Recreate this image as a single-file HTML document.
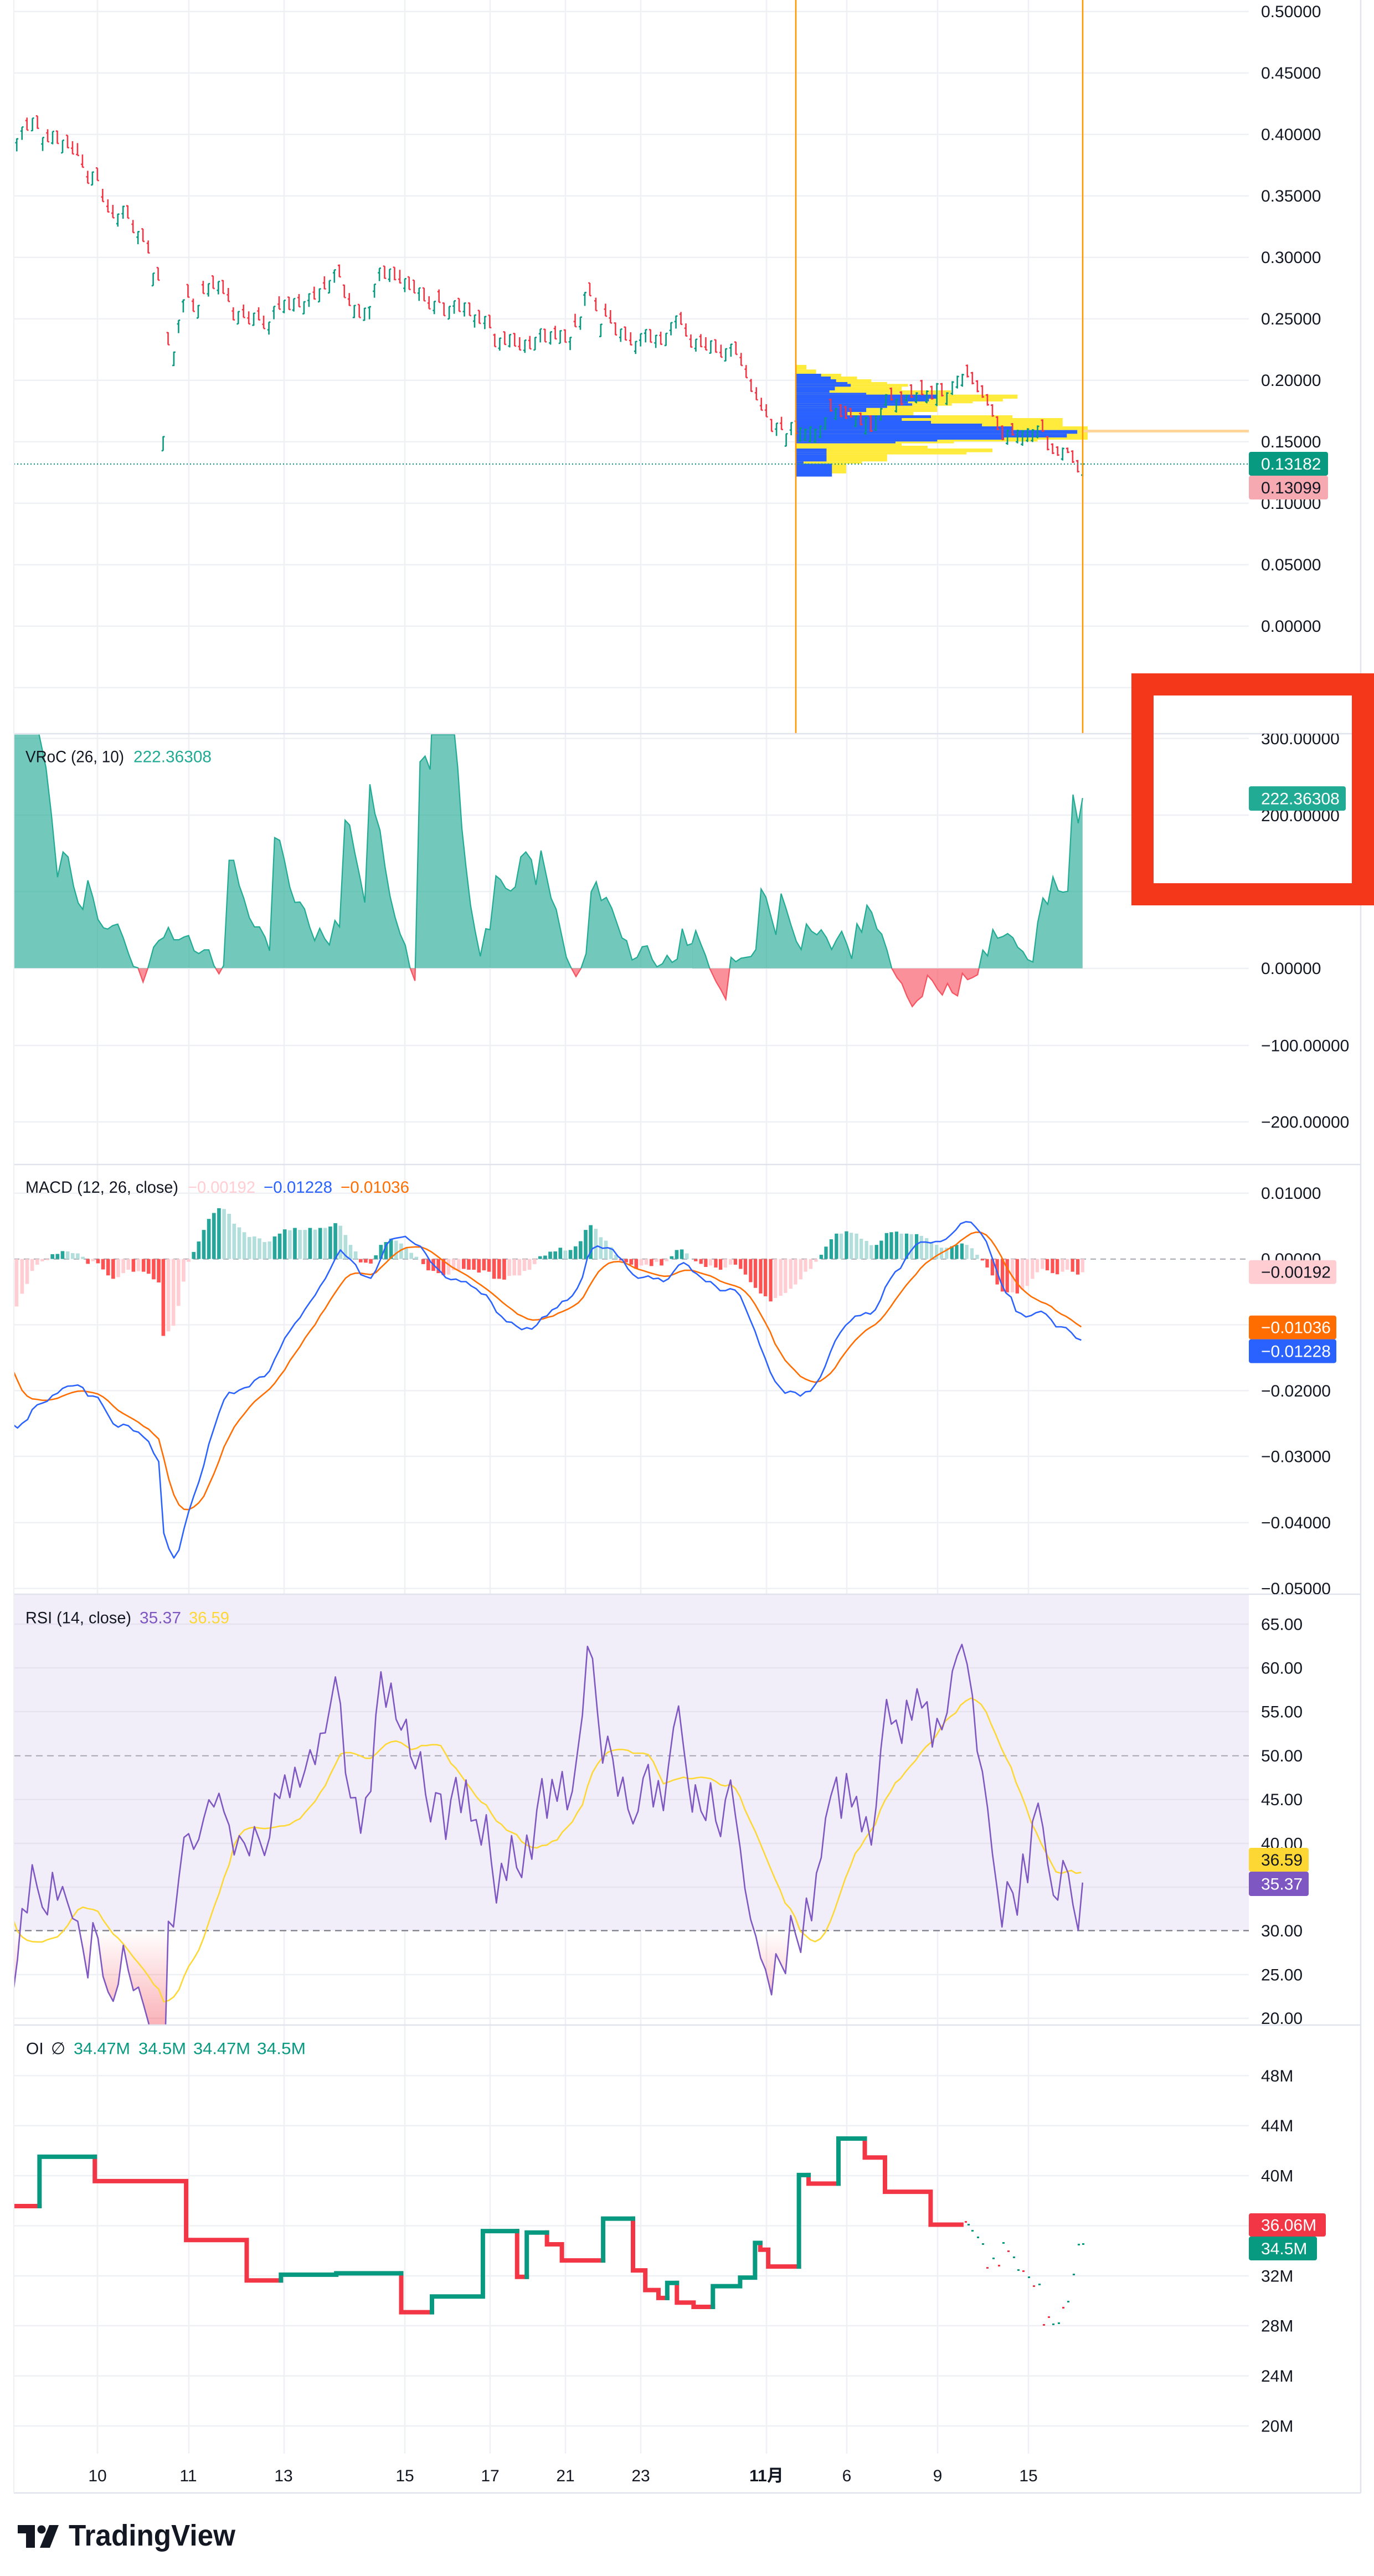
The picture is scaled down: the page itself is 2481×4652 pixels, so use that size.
<!DOCTYPE html>
<html><head><meta charset="utf-8"><style>
html,body{margin:0;padding:0;background:#fff;}
body{width:2481px;height:4652px;overflow:hidden;position:relative;}
svg{position:absolute;left:0;top:0;}
</style></head><body>
<svg xmlns="http://www.w3.org/2000/svg" width="2481" height="4652" viewBox="0 0 2481 4652" font-family="'Liberation Sans','DejaVu Sans',sans-serif" font-size="30">
<defs>
<clipPath id="cP"><rect x="25" y="0" width="2230" height="1325"/></clipPath>
<clipPath id="cVa"><rect x="25" y="1325" width="2230" height="423.7"/></clipPath>
<clipPath id="cVb"><rect x="25" y="1748.7" width="2230" height="354.3"/></clipPath>
<clipPath id="cM"><rect x="25" y="2103" width="2230" height="776"/></clipPath>
<clipPath id="cR"><rect x="25" y="2879" width="2230" height="777"/></clipPath>
<clipPath id="cO"><rect x="25" y="3657" width="2230" height="774"/></clipPath>
<clipPath id="aV"><rect x="2255" y="1325" width="202" height="778"/></clipPath>
<clipPath id="aM"><rect x="2255" y="2103" width="202" height="776"/></clipPath>
<clipPath id="aR"><rect x="2255" y="2879" width="202" height="777"/></clipPath>
<linearGradient id="osg" gradientUnits="userSpaceOnUse" x1="0" y1="3486" x2="0" y2="3656"><stop offset="0" stop-color="#f23645" stop-opacity="0"/><stop offset="1" stop-color="#f23645" stop-opacity="0.38"/></linearGradient>
<clipPath id="osc">
<polygon transform="translate(0,2860) scale(0.8307,0.5102)" points="30,1430 38,1330 48,1150 59,1165 70,995 81,1075 92,1145 103,1172 114,1022 125,1120 136,1072 147,1130 158,1185 169,1195 180,1290 191,1395 202,1200 213,1255 224,1390 235,1445 246,1478 257,1418 268,1280 279,1370 290,1440 301,1428 312,1490 323,1555 330,1620 356,1620 360,1560 366,1195 377,1215 389,1040 400,898 1505,800 1505,0 30,0"/>
<polygon transform="translate(1250,2860) scale(0.7866,0.5102)" points="0,810 110,935 121,1080 134,1188 146,1248 157,1325 168,1365 182,1455 192,1310 203,1345 214,1380 226,1175 237,1240 249,1305 262,1113 274,1193 285,1025 296,970 896,1058 896,0 0,0"/>
</clipPath>
</defs>

<!-- grid -->
<g stroke="#eef0f4" stroke-width="2.5" fill="none">
<path d="M176,0V4431M341,0V4431M513,0V4431M731,0V4431M885,0V4431M1021,0V4431M1157,0V4431M1384,0V4431M1529,0V4431M1693,0V4431M1857,0V4431"/>
<path d="M25,20.7H2255M25,131.7H2255M25,242.7H2255M25,353.7H2255M25,464.7H2255M25,575.7H2255M25,686.7H2255M25,797.7H2255M25,908.7H2255M25,1019.7H2255M25,1130.7H2255M25,1241.7H2255"/>
<path d="M25,1333.5H2255M25,1472H2255M25,1610H2255M25,1748.7H2255M25,1888H2255M25,2026H2255"/>
<path d="M25,2154.8H2255M25,2392.5H2255M25,2511.4H2255M25,2630H2255M25,2749.7H2255M25,2868.6H2255"/>
<path d="M25,3748.4H2255M25,3838.8H2255M25,3929H2255M25,4019.5H2255M25,4110H2255M25,4200H2255M25,4290.6H2255M25,4381H2255"/>
</g>

<!-- ===== PRICE PANE ===== -->
<g clip-path="url(#cP)">
<g transform="translate(1300,550) scale(0.7546,0.3333)">
<g fill="#ffeb3b">
<rect x="182" y="327" width="25" height="25"/><rect x="182" y="352" width="48" height="23"/><rect x="182" y="375" width="108" height="15"/><rect x="182" y="390" width="146" height="15"/><rect x="182" y="405" width="180" height="15"/><rect x="182" y="420" width="218" height="10"/><rect x="182" y="430" width="268" height="15"/><rect x="182" y="445" width="253" height="20"/><rect x="182" y="465" width="371" height="13"/><rect x="182" y="478" width="371" height="10"/><rect x="182" y="488" width="530" height="22"/><rect x="182" y="510" width="495" height="15"/><rect x="182" y="525" width="423" height="10"/><rect x="182" y="535" width="373" height="13"/><rect x="182" y="548" width="338" height="12"/><rect x="182" y="560" width="338" height="22"/><rect x="182" y="582" width="281" height="18"/><rect x="182" y="600" width="518" height="15"/><rect x="182" y="615" width="638" height="15"/><rect x="182" y="630" width="638" height="15"/><rect x="182" y="645" width="638" height="15"/><rect x="182" y="660" width="698" height="20"/><rect x="182" y="680" width="698" height="20"/><rect x="182" y="700" width="698" height="20"/><rect x="182" y="720" width="698" height="12"/><rect x="182" y="732" width="578" height="10"/><rect x="182" y="742" width="378" height="10"/><rect x="182" y="752" width="253" height="13"/><rect x="182" y="765" width="315" height="15"/><rect x="182" y="780" width="470" height="20"/><rect x="182" y="800" width="408" height="12"/><rect x="182" y="812" width="218" height="38"/><rect x="182" y="850" width="158" height="12"/><rect x="182" y="862" width="120" height="53"/>
</g>
<g fill="#2962ff">
<rect x="182" y="375" width="60" height="15"/><rect x="182" y="390" width="83" height="15"/><rect x="182" y="405" width="96" height="15"/><rect x="182" y="420" width="123" height="10"/><rect x="182" y="430" width="131" height="15"/><rect x="182" y="445" width="93" height="20"/><rect x="182" y="465" width="80" height="13"/><rect x="182" y="478" width="168" height="10"/><rect x="182" y="488" width="338" height="22"/><rect x="182" y="510" width="318" height="15"/><rect x="182" y="525" width="268" height="10"/><rect x="182" y="535" width="278" height="13"/><rect x="182" y="548" width="218" height="12"/><rect x="182" y="560" width="168" height="22"/><rect x="182" y="582" width="123" height="18"/><rect x="182" y="600" width="323" height="15"/><rect x="182" y="615" width="253" height="15"/><rect x="182" y="630" width="323" height="15"/><rect x="182" y="645" width="445" height="15"/><rect x="182" y="660" width="518" height="20"/><rect x="182" y="680" width="673" height="20"/><rect x="182" y="700" width="648" height="20"/><rect x="182" y="720" width="498" height="12"/><rect x="182" y="732" width="338" height="10"/><rect x="182" y="742" width="238" height="10"/><rect x="182" y="780" width="73" height="20"/><rect x="182" y="800" width="73" height="12"/><rect x="182" y="812" width="73" height="38"/><rect x="182" y="850" width="18" height="12"/><rect x="182" y="862" width="86" height="70"/>
</g>
<rect x="868" y="678" width="400" height="15" fill="#ffd59a"/>
</g>
<g fill="none" stroke-width="2.6">
<g transform="translate(0,180) scale(0.4728,0.3333)">
<path vector-effect="non-scaling-stroke" stroke="#089981" d="M64,210V280M58,233H64M64,212H70M84,148V218M78,170H84M84,148H90M124,100V170M118,168H124M124,100H130M163,205V278M157,240H163M163,205H169M201,172V242M195,235H201M201,172H207M239,220V288M233,288H239M239,220H245M353,390V463M347,462H353M353,392H359M450,618V688M444,672H450M450,620H456M470,575V645M464,618H470M470,578H476M527,713V783M521,745H527M527,715H533M585,940V1008M579,1008H585M585,940H591M623,1824V1902M617,1902H623M623,1826H629M664,1365V1443M658,1440H664M664,1368H670M682,1195V1265M676,1215H682M682,1195H688M700,1083V1153M694,1095H700M700,1085H706M757,1113V1183M751,1183H757M757,1115H763M796,997V1067M790,1052H796M796,997H802M834,985V1055M828,1033H834M834,985H840M910,1147V1215M904,1215H910M910,1148H916M969,1155V1225M963,1222H969M969,1157H975M1027,1205V1273M1021,1247H1027M1027,1205H1033M1046,1120V1190M1040,1145H1046M1046,1120H1052M1085,1087V1157M1079,1150H1085M1085,1087H1091M1122,1078V1148M1116,1140H1122M1122,1078H1128M1161,1093V1162M1155,1160H1161M1161,1095H1167M1180,1050V1123M1174,1088H1180M1180,1052H1186M1220,1023V1095M1214,1095H1220M1220,1025H1226M1258,980V1048M1252,1047H1258M1258,980H1264M1277,922V992M1271,938H1277M1277,922H1283M1353,1113V1183M1347,1180H1353M1353,1115H1359M1392,1128V1198M1386,1195H1392M1392,1130H1398M1411,1120V1190M1405,1127H1411M1411,1122H1417M1430,1000V1073M1424,1038H1430M1430,1000H1436M1449,913V983M1443,938H1449M1449,913H1455M1488,918V988M1482,973H1488M1488,918H1494M1546,970V1043M1540,1022H1546M1546,970H1552"/>
<path vector-effect="non-scaling-stroke" stroke="#f23645" d="M103,97V165M97,113H103M103,165H109M143,88V157M137,88H143M143,155H149M182,160V228M176,180H182M182,228H188M219,168V238M213,170H219M219,237H225M258,193V262M252,193H258M258,260H264M277,225V295M271,263H277M277,294H283M296,235V302M290,297H296M296,302H302M315,297V367M309,350H315M315,366H321M335,385V453M329,418H335M335,453H341M372,370V438M366,370H372M372,438H378M392,483V552M386,527H392M392,552H398M412,540V610M406,578H412M412,608H418M431,570V640M425,615H431M431,640H437M488,573V642M482,575H488M488,642H494M508,652V720M502,675H508M508,720H514M546,700V768M540,700H546M546,768H552M566,763V832M560,778H566M566,830H572M604,910V978M598,910H604M604,978H610M642,1260V1328M636,1262H642M642,1328H648M718,1002V1072M712,1002H718M718,1070H724M738,1078V1147M732,1092H738M738,1147H744M776,982V1050M770,1003H776M776,1050H782M814,955V1023M808,955H814M814,1023H820M852,978V1050M846,980H852M852,1050H858M872,1020V1093M866,1057H872M872,1093H878M891,1125V1195M885,1145H891M891,1193H897M930,1110V1180M924,1138H930M930,1180H936M950,1147V1215M944,1183H950M950,1215H956M988,1125V1195M982,1145H988M988,1193H994M1007,1170V1240M1001,1217H1007M1007,1240H1013M1066,1065V1135M1060,1108H1066M1066,1135H1072M1104,1068V1138M1098,1070H1104M1104,1137H1110M1142,1053V1123M1136,1072H1142M1142,1122H1148M1200,1013V1082M1194,1043H1200M1200,1080H1206M1239,957V1027M1233,993H1239M1239,1025H1245M1296,893V960M1290,898H1296M1296,960H1302M1315,1003V1072M1309,1005H1315M1315,1072H1321M1334,1048V1117M1328,1080H1334M1334,1115H1340M1372,1110V1180M1366,1110H1372M1372,1180H1378M1469,902V970M1463,902H1469M1469,968H1475M1507,908V978M1501,908H1507M1507,975H1513M1527,922V995M1521,973H1527M1527,993H1533"/>
</g>
<g transform="translate(700,420) scale(0.4728,0.3333)">
<path vector-effect="non-scaling-stroke" stroke="#089981" d="M120,300V370M114,328H120M120,300H126M178,372V442M172,422H178M178,373H184M235,400V468M229,468H235M235,400H241M254,370V440M248,398H254M254,370H260M293,380V455M287,428H293M293,382H299M332,445V515M326,480H332M332,447H338M371,453V523M365,492H371M371,455H377M428,570V640M422,627H428M428,572H434M466,552V622M460,615H466M466,553H472M524,582V652M518,638H524M524,583H530M563,567V637M557,636H563M563,568H569M583,522V595M577,548H583M583,522H589M622,537V607M616,598H622M622,538H628M659,530V600M653,600H659M659,532H665M697,567V637M691,592H697M697,568H703M736,457V527M730,510H736M736,458H742M753,323V397M747,338H753M753,325H759M814,495V565M808,563H814M814,497H820M890,522V592M884,568H890M890,523H896M947,588V658M941,643H947M947,590H953M966,547V617M960,583H966M966,548H972M985,525V595M979,545H985M985,526H991M1024,555V625M1018,598H1024M1024,557H1030M1063,545V613M1057,612H1063M1063,546H1069M1082,487V557M1076,530H1082M1082,488H1088M1101,450V520M1095,482H1101M1101,452H1107M1177,577V645M1171,628H1177M1177,578H1183M1234,585V655M1228,653H1234M1234,587H1240M1291,628V697M1285,695H1291M1291,630H1297M1311,603V673M1305,625H1311M1311,605H1317M1485,1032V1102M1479,1065H1485M1485,1033H1491M1522,1090V1158M1516,1157H1522M1522,1090H1528M1541,1028V1098M1535,1070H1541M1541,1030H1547"/>
<path vector-effect="non-scaling-stroke" stroke="#f23645" d="M82,240V308M76,240H82M82,308H88M101,258V327M95,258H101M101,327H107M139,300V370M133,300H139M139,370H145M158,345V413M152,382H158M158,413H164M196,308V378M190,320H196M196,378H202M215,380V450M209,382H215M215,450H221M273,357V427M267,357H273M273,427H279M313,380V450M307,382H313M313,450H319M350,422V492M344,422H350M350,492H356M390,448V517M384,448H390M390,515H396M409,548V618M403,555H409M409,618H415M447,537V607M441,538H447M447,606H453M485,545V615M479,547H485M485,615H491M504,567V637M498,617H504M504,636H510M543,560V630M537,585H543M543,630H549M601,522V592M595,524H601M601,592H607M640,505V577M634,520H640M640,576H646M678,525V595M672,528H678M678,594H684M716,440V510M710,482H716M716,510H722M772,273V342M766,273H772M772,342H778M795,353V423M789,370H795M795,423H801M832,385V453M826,415H832M832,453H838M851,420V490M845,463H851M851,490H857M870,487V555M864,490H870M870,554H876M908,510V583M902,512H908M908,582H914M928,540V610M922,585H928M928,608H934M1004,525V595M998,526H1004M1004,594H1010M1043,537V607M1037,557H1043M1043,605H1049M1120,430V498M1114,442H1120M1120,497H1126M1139,492V562M1133,518H1139M1139,560H1145M1158,552V622M1152,578H1158M1158,620H1164M1196,550V620M1190,563H1196M1196,618H1202M1215,567V637M1209,620H1215M1215,636H1221M1253,580V650M1247,581H1253M1253,648H1259M1273,607V675M1267,650H1273M1273,675H1279M1330,592V660M1324,593H1330M1330,660H1336M1350,652V720M1344,677H1350M1350,720H1356M1369,718V786M1363,740H1369M1369,786H1375M1388,793V862M1382,803H1388M1388,860H1394M1408,838V907M1402,868H1408M1408,906H1414M1427,895V963M1421,938H1427M1427,962H1433M1446,930V998M1440,962H1446M1446,998H1452M1466,1010V1078M1460,1013H1466M1466,1077H1472M1504,998V1068M1498,1033H1504M1504,1067H1510M1560,1020V1090M1554,1022H1560M1560,1088H1566"/>
</g>
<g transform="translate(1300,550) scale(0.7546,0.3333)">
<path vector-effect="non-scaling-stroke" stroke="#089981" d="M192,665V745M188,737H192M192,670H196M204,672V740M200,732H204M204,677H208M216,660V748M212,740H216M216,665H220M228,672V750M224,742H228M228,677H232M240,655V725M236,717H240M240,660H244M252,610V680M248,672H252M252,615H256M277,560V625M273,617H277M277,565H281M325,600V665M321,657H325M325,605H329M349,610V705M345,697H349M349,615H353M373,600V685M369,677H373M373,605H377M385,560V630M381,622H385M385,565H389M397,485V550M393,542H397M397,490H401M422,510V585M418,577H422M422,515H426M446,488V525M442,517H446M446,493H450M470,475V535M466,527H470M470,480H474M495,465V535M491,527H495M495,470H499M519,425V550M515,542H519M519,430H523M543,475V545M539,537H543M543,480H547M556,415V490M552,482H556M556,420H560M568,385V455M564,447H568M568,390H572M580,375V445M576,437H580M580,380H584M688,678V760M684,752H688M688,683H692M712,678V752M708,744H712M712,683H716M724,680V765M720,757H724M724,685H728M736,670V745M732,737H736M736,675H740M748,675V745M744,737H748M748,680H752M760,655V725M756,717H760M760,660H764M820,775V845M816,837H820M820,780H824M868,862V932M864,924H868M868,864H872"/>
<path vector-effect="non-scaling-stroke" stroke="#f23645" d="M265,510V580M261,515H265M265,575H269M289,540V610M285,545H289M289,605H293M301,550V620M297,555H301M301,615H305M313,560V612M309,565H313M313,607H317M337,585V655M333,590H337M337,650H341M361,600V690M357,605H361M361,685H365M410,450V520M406,455H410M410,515H414M434,470V545M430,475H434M434,540H438M458,432V505M454,437H458M458,500H462M483,408V492M479,413H483M483,487H487M507,440V515M503,445H507M507,510H511M531,425V498M527,430H531M531,493H535M592,325V395M588,330H592M592,390H596M604,365V432M600,370H604M604,427H608M616,410V475M612,415H616M616,470H620M628,437V505M624,442H628M628,500H632M640,485V548M636,490H640M640,543H644M652,540V608M648,545H652M652,603H656M664,605V680M660,610H664M664,675H668M676,655V735M672,660H676M676,730H680M700,642V710M696,647H700M700,705H704M772,622V690M768,627H772M772,685H776M784,712V790M780,717H784M784,785H788M796,752V810M792,757H796M796,805H800M808,768V820M804,773H808M808,815H812M832,775V805M828,780H832M832,800H836M844,790V858M840,795H844M844,853H848M856,842V910M852,847H856M856,905H860"/>
</g>
</g>
<path d="M25,838H2255" stroke="#089981" stroke-width="2.2" stroke-dasharray="2 4"/>
</g>
<path d="M1437,0V1325M1955,0V1325" stroke="#ff9800" stroke-width="2.6"/>

<!-- ===== VRoC ===== -->
<g clip-path="url(#cVa)">
<polygon transform="translate(0,1300) scale(0.8307,0.3323)" fill="#22ab94" fill-opacity="0.64" points="30,1349 30,80 85,80 100,260 112,520 125,855 137,718 148,745 160,905 170,995 180,1030 191,872 202,965 213,1085 225,1130 234,1137 245,1118 256,1110 268,1185 280,1275 290,1340 300,1348 311,1425 322,1345 334,1235 345,1200 356,1183 366,1128 378,1195 389,1195 400,1180 410,1172 422,1255 432,1270 444,1250 454,1250 465,1335 476,1380 486,1335 498,763 508,763 520,900 530,970 542,1075 553,1125 564,1125 576,1180 586,1255 597,640 608,655 618,760 630,910 641,992 652,990 662,1028 673,1125 684,1200 695,1133 706,1190 716,1223 728,1090 738,1125 750,545 760,572 771,720 782,850 793,993 804,350 815,510 826,600 837,800 848,960 859,1075 870,1165 881,1225 891,1345 902,1418 913,228 924,197 935,270 938,80 988,80 995,260 1004,590 1013,800 1023,1010 1033,1150 1044,1285 1056,1135 1065,1140 1078,848 1088,868 1099,915 1110,930 1120,908 1132,745 1143,718 1155,760 1165,897 1176,710 1187,840 1198,970 1209,1030 1220,1160 1231,1290 1241,1345 1252,1395 1263,1350 1274,1270 1285,935 1296,880 1307,982 1318,965 1330,1025 1341,1105 1352,1185 1362,1200 1374,1305 1385,1290 1396,1233 1407,1228 1418,1303 1428,1342 1440,1325 1450,1280 1461,1318 1472,1300 1483,1135 1494,1225 1505,1215 1505,1349"/>
<polygon transform="translate(1250,1300) scale(0.7866,0.523)" fill="#22ab94" fill-opacity="0.64" points="0,858 0,770 8,728 20,775 30,812 40,858 55,905 65,930 77,965 89,820 100,835 112,823 124,820 135,817 146,793 158,584 169,612 181,680 192,742 204,600 215,650 227,710 239,765 250,793 262,705 274,730 286,742 296,725 308,752 320,793 331,760 343,730 355,775 366,825 378,704 389,733 401,640 412,665 424,722 435,740 447,795 458,858 470,890 481,910 493,955 505,990 516,970 528,955 540,882 551,900 563,930 574,950 586,910 597,942 609,953 620,875 632,897 643,890 655,880 667,795 678,815 690,724 701,754 713,748 724,738 736,752 747,785 759,800 770,828 782,836 793,700 805,615 816,637 828,542 840,590 851,595 862,592 874,258 886,357 896,270 896,858"/>
<polyline transform="translate(0,1300) scale(0.8307,0.3323)" vector-effect="non-scaling-stroke" fill="none" stroke="#22ab94" stroke-width="2.2" points="85,80 100,260 112,520 125,855 137,718 148,745 160,905 170,995 180,1030 191,872 202,965 213,1085 225,1130 234,1137 245,1118 256,1110 268,1185 280,1275 290,1340 300,1348 311,1425 322,1345 334,1235 345,1200 356,1183 366,1128 378,1195 389,1195 400,1180 410,1172 422,1255 432,1270 444,1250 454,1250 465,1335 476,1380 486,1335 498,763 508,763 520,900 530,970 542,1075 553,1125 564,1125 576,1180 586,1255 597,640 608,655 618,760 630,910 641,992 652,990 662,1028 673,1125 684,1200 695,1133 706,1190 716,1223 728,1090 738,1125 750,545 760,572 771,720 782,850 793,993 804,350 815,510 826,600 837,800 848,960 859,1075 870,1165 881,1225 891,1345 902,1418 913,228 924,197 935,270 938,80 988,80 995,260 1004,590 1013,800 1023,1010 1033,1150 1044,1285 1056,1135 1065,1140 1078,848 1088,868 1099,915 1110,930 1120,908 1132,745 1143,718 1155,760 1165,897 1176,710 1187,840 1198,970 1209,1030 1220,1160 1231,1290 1241,1345 1252,1395 1263,1350 1274,1270 1285,935 1296,880 1307,982 1318,965 1330,1025 1341,1105 1352,1185 1362,1200 1374,1305 1385,1290 1396,1233 1407,1228 1418,1303 1428,1342 1440,1325 1450,1280 1461,1318 1472,1300 1483,1135 1494,1225 1505,1215"/>
<polyline transform="translate(1250,1300) scale(0.7866,0.523)" vector-effect="non-scaling-stroke" fill="none" stroke="#22ab94" stroke-width="2.2" points="0,770 8,728 20,775 30,812 40,858 55,905 65,930 77,965 89,820 100,835 112,823 124,820 135,817 146,793 158,584 169,612 181,680 192,742 204,600 215,650 227,710 239,765 250,793 262,705 274,730 286,742 296,725 308,752 320,793 331,760 343,730 355,775 366,825 378,704 389,733 401,640 412,665 424,722 435,740 447,795 458,858 470,890 481,910 493,955 505,990 516,970 528,955 540,882 551,900 563,930 574,950 586,910 597,942 609,953 620,875 632,897 643,890 655,880 667,795 678,815 690,724 701,754 713,748 724,738 736,752 747,785 759,800 770,828 782,836 793,700 805,615 816,637 828,542 840,590 851,595 862,592 874,258 886,357 896,270"/>
</g>
<g clip-path="url(#cVb)">
<polygon transform="translate(0,1300) scale(0.8307,0.3323)" fill="#f7525f" fill-opacity="0.64" points="30,1349 290,1340 300,1348 311,1425 322,1345 454,1250 465,1335 476,1380 486,1335 881,1225 891,1345 902,1418 913,228 1231,1290 1241,1345 1252,1395 1263,1350 1505,1215 1505,1349"/>
<polygon transform="translate(1250,1300) scale(0.7866,0.523)" fill="#f7525f" fill-opacity="0.64" points="0,858 30,812 40,858 55,905 65,930 77,965 89,820 100,835 447,795 458,858 470,890 481,910 493,955 505,990 516,970 528,955 540,882 551,900 563,930 574,950 586,910 597,942 609,953 620,875 632,897 643,890 655,880 667,795 896,858"/>
<polyline transform="translate(0,1300) scale(0.8307,0.3323)" vector-effect="non-scaling-stroke" fill="none" stroke="#f7525f" stroke-width="2.2" points="290,1340 300,1348 311,1425 322,1345"/>
<polyline transform="translate(0,1300) scale(0.8307,0.3323)" vector-effect="non-scaling-stroke" fill="none" stroke="#f7525f" stroke-width="2.2" points="454,1250 465,1335 476,1380 486,1335"/>
<polyline transform="translate(0,1300) scale(0.8307,0.3323)" vector-effect="non-scaling-stroke" fill="none" stroke="#f7525f" stroke-width="2.2" points="881,1225 891,1345 902,1418 913,228"/>
<polyline transform="translate(0,1300) scale(0.8307,0.3323)" vector-effect="non-scaling-stroke" fill="none" stroke="#f7525f" stroke-width="2.2" points="1231,1290 1241,1345 1252,1395 1263,1350 1274,1270"/>
<polyline transform="translate(1250,1300) scale(0.7866,0.523)" vector-effect="non-scaling-stroke" fill="none" stroke="#f7525f" stroke-width="2.2" points="30,812 40,858 55,905 65,930 77,965 89,820"/>
<polyline transform="translate(1250,1300) scale(0.7866,0.523)" vector-effect="non-scaling-stroke" fill="none" stroke="#f7525f" stroke-width="2.2" points="447,795 458,858 470,890 481,910 493,955 505,990 516,970 528,955 540,882 551,900 563,930 574,950 586,910 597,942 609,953 620,875 632,897 643,890 655,880 667,795"/>
</g>

<!-- ===== MACD ===== -->
<path d="M25,2273.7H2255" stroke="#a3a6af" stroke-width="2" stroke-dasharray="10 8"/>
<g clip-path="url(#cM)">
<g transform="translate(0,2090) scale(0.8307,0.5102)" fill="none" stroke-width="8">
<path stroke="#ffcdd2" d="M36,360V528M48,360V483M59,360V448M70,360V402M81,360V380M92,360V368M103,360V364M202,360V368M257,360V424M268,360V410M279,360V398M301,360V403M366,360V616M377,360V596M388,360V526M399,360V440M410,360V370M975,360V415M986,360V400M997,360V400M1107,360V420M1118,360V418M1129,360V418M1140,360V402M1151,360V398M1162,360V378M1394,360V383M1405,360V380M1427,360V370M1449,360V368"/>
<path stroke="#ff5252" d="M191,360V377M213,360V375M224,360V397M235,360V418M246,360V430M290,360V405M312,360V405M323,360V412M334,360V432M345,360V443M355,360V632M784,360V372M795,360V373M806,360V376M920,360V378M931,360V400M942,360V402M953,360V410M964,360V417M1008,360V395M1019,360V398M1030,360V398M1041,360V408M1052,360V400M1063,360V405M1074,360V430M1085,360V430M1096,360V433M1350,360V365M1361,360V372M1372,360V380M1383,360V395M1416,360V385M1438,360V383"/>
<path stroke="#26a69a" d="M114,360V343M125,360V342M136,360V332M421,360V335M432,360V298M443,360V257M454,360V218M465,360V197M476,360V180M597,360V280M608,360V270M619,360V255M641,360V250M674,360V250M696,360V250M718,360V245M729,360V233M817,360V347M828,360V310M839,360V300M850,360V288M1174,360V350M1185,360V348M1196,360V334M1207,360V333M1218,360V320M1240,360V328M1251,360V315M1262,360V297M1273,360V257M1284,360V240M1460,360V350M1471,360V328M1482,360V326"/>
<path stroke="#b2dfdb" d="M147,360V333M158,360V339M169,360V340M180,360V352M487,360V183M498,360V200M509,360V235M520,360V248M531,360V265M542,360V282M553,360V280M564,360V287M575,360V300M586,360V298M630,360V258M652,360V257M663,360V257M685,360V256M707,360V250M740,360V242M751,360V275M762,360V310M773,360V333M861,360V295M872,360V305M883,360V320M894,360V338M905,360V352M1229,360V330M1295,360V253M1306,360V283M1317,360V295M1328,360V318M1339,360V345M1493,360V340"/>
</g>
<g transform="translate(1250,2090) scale(0.7866,0.5102)" fill="none" stroke-width="8">
<path stroke="#ff5252" d="M8,360V368M20,360V377M31,360V388M54,360V390M65,360V398M99,360V380M111,360V395M122,360V415M134,360V442M145,360V462M157,360V482M168,360V492M180,360V510M666,360V365M677,360V390M689,360V418M700,360V450M712,360V475M723,360V478M746,360V482M815,360V400M827,360V410M838,360V414M873,360V405M885,360V415"/>
<path stroke="#ffcdd2" d="M42,360V383M76,360V390M88,360V380M191,360V498M203,360V490M214,360V480M226,360V465M237,360V450M249,360V432M260,360V405M272,360V395M284,360V370M735,360V478M758,360V468M769,360V455M781,360V430M792,360V407M804,360V395M850,360V405M861,360V398M896,360V407"/>
<path stroke="#26a69a" d="M296,360V345M307,360V316M319,360V290M331,360V270M354,360V262M423,360V310M434,360V295M446,360V268M457,360V265M469,360V263M492,360V270M515,360V272M596,360V315M607,360V310M619,360V305"/>
<path stroke="#b2dfdb" d="M342,360V270M365,360V267M377,360V270M388,360V288M400,360V296M411,360V311M480,360V270M503,360V272M526,360V278M538,360V286M549,360V300M561,360V310M572,360V320M584,360V320M630,360V310M642,360V322M654,360V345"/>
</g>
<g fill="none" stroke-width="2.6" stroke-linejoin="round">
<polyline transform="translate(0,2090) scale(0.8307,0.5102)" vector-effect="non-scaling-stroke" stroke="#ff6d00" points="30,760 38,790 48,825 59,845 70,855 81,857 92,860 103,860 114,857 125,853 136,845 147,838 158,832 169,828 180,827 191,830 202,833 213,838 224,848 235,862 246,880 257,896 268,907 279,917 290,927 301,938 312,952 323,962 334,980 345,997 356,1065 367,1140 378,1195 389,1230 400,1246 410,1247 421,1238 432,1223 443,1200 454,1160 465,1120 476,1075 487,1025 498,990 509,955 520,930 531,908 542,885 553,865 564,850 575,835 586,820 597,800 608,775 619,752 630,720 641,695 652,670 663,640 674,615 685,592 696,560 707,535 718,505 729,478 740,452 751,428 762,415 773,410 784,410 795,413 806,415 817,408 828,390 839,373 850,355 861,340 872,328 883,320 894,318 905,317 916,318 927,325 938,335 949,348 960,362 971,375 982,388 993,398 1004,408 1015,418 1026,430 1037,443 1048,455 1059,468 1070,482 1081,497 1092,513 1103,527 1114,540 1125,555 1136,563 1147,572 1158,576 1169,575 1180,572 1191,566 1202,562 1213,552 1224,545 1235,537 1246,527 1257,515 1268,495 1279,462 1290,432 1301,405 1312,388 1323,375 1334,370 1345,369 1356,372 1367,380 1378,390 1389,397 1400,402 1411,408 1422,413 1433,418 1444,421 1455,420 1466,413 1477,405 1488,400 1499,400 1505,400"/>
<polyline transform="translate(1250,2090) scale(0.7866,0.5102)" vector-effect="non-scaling-stroke" stroke="#ff6d00" points="0,400 10,405 20,410 31,415 42,420 53,428 64,438 76,445 87,450 98,455 110,462 121,475 133,495 144,520 155,550 167,583 179,618 190,660 202,690 213,718 225,738 236,755 248,775 260,785 271,792 282,796 294,792 305,780 317,765 328,745 340,715 352,690 363,668 374,648 386,630 398,613 409,602 420,592 432,575 443,555 455,530 466,505 478,480 490,455 501,435 513,415 524,393 536,375 547,363 559,350 570,340 582,330 593,320 605,310 616,295 628,282 640,270 651,265 663,266 675,275 686,293 697,318 709,350 720,385 732,415 743,440 755,463 766,478 778,493 789,502 801,512 812,518 824,528 835,543 847,555 858,563 870,575 881,588 893,600"/>
<polyline transform="translate(0,2090) scale(0.8307,0.5102)" vector-effect="non-scaling-stroke" stroke="#2962ff" points="30,948 38,958 48,942 60,928 70,893 81,876 92,870 103,863 114,843 125,835 136,818 147,810 158,809 169,806 180,815 191,845 202,845 213,850 224,880 235,912 246,943 257,955 268,945 279,950 290,968 301,973 312,990 323,1006 334,1047 345,1077 356,1330 367,1385 378,1418 389,1390 400,1315 410,1255 421,1200 432,1150 443,1090 454,1015 465,960 476,905 487,858 498,832 509,836 520,824 531,816 542,812 553,790 564,778 575,776 586,756 597,715 608,680 619,640 630,615 641,588 652,568 663,538 674,512 685,488 696,456 707,430 718,395 729,358 740,328 751,348 762,362 773,380 784,415 795,422 806,428 817,400 828,358 839,312 850,290 861,286 872,283 881,280 892,295 903,308 914,315 925,340 936,370 947,388 958,405 969,426 980,433 991,431 1002,440 1013,440 1024,455 1035,465 1046,483 1057,487 1068,513 1079,548 1090,563 1101,582 1112,584 1123,598 1134,610 1145,603 1156,608 1167,593 1178,567 1189,561 1200,540 1211,532 1222,510 1233,506 1244,490 1255,463 1266,425 1277,355 1288,323 1299,314 1310,322 1321,320 1332,326 1343,350 1354,365 1365,395 1376,415 1387,428 1398,425 1409,420 1420,430 1431,428 1442,440 1453,430 1464,405 1475,382 1486,373 1497,384 1505,403"/>
<polyline transform="translate(1250,2090) scale(0.7866,0.5102)" vector-effect="non-scaling-stroke" stroke="#2962ff" points="0,403 10,412 20,425 31,440 42,440 53,455 64,472 76,472 87,465 98,470 110,490 121,530 133,575 144,615 155,665 167,710 179,760 190,793 202,815 213,835 225,828 236,832 248,845 260,830 271,828 282,805 294,778 305,740 317,690 328,650 340,620 352,595 363,580 374,562 386,560 398,550 409,555 420,540 432,505 443,460 455,430 466,405 478,393 490,358 501,333 513,310 524,300 536,300 547,303 559,298 570,298 582,290 593,275 605,257 616,235 628,228 640,230 651,248 663,270 675,298 686,345 697,393 709,445 720,480 732,495 743,545 755,553 766,565 778,560 789,550 801,545 812,555 824,575 835,600 847,600 858,603 870,620 881,640 893,647"/>
</g>
</g>

<!-- ===== RSI ===== -->
<rect x="25" y="2879" width="2230" height="607.5" fill="#f2eef9"/>
<g stroke="#e6e2ef" stroke-width="2.5"><path d="M25,2933H2255M25,3012H2255M25,3091H2255M25,3249.8H2255M25,3329H2255M25,3408H2255"/></g>
<g stroke="#eef0f4" stroke-width="2.5"><path d="M25,3566H2255M25,3644.7H2255"/></g>
<path d="M25,3170.7H2255" stroke="#a5a8b1" stroke-width="2" stroke-dasharray="12 8"/>
<path d="M25,3486.5H2255" stroke="#787b86" stroke-width="2.2" stroke-dasharray="12 8"/>
<rect x="25" y="3486.5" width="2230" height="170" fill="url(#osg)" clip-path="url(#osc)"/>
<g clip-path="url(#cR)" fill="none" stroke-width="2.6" stroke-linejoin="round">
<polyline transform="translate(0,2860) scale(0.8307,0.5102)" vector-effect="non-scaling-stroke" stroke="#fdd835" points="30,1195 38,1230 48,1250 59,1262 70,1267 81,1268 92,1268 103,1260 114,1255 125,1250 136,1232 147,1210 158,1180 169,1155 180,1145 191,1150 202,1153 213,1160 224,1190 235,1215 246,1240 257,1255 268,1275 279,1298 290,1322 301,1343 312,1365 323,1390 334,1418 345,1435 356,1480 367,1475 378,1462 389,1437 400,1390 410,1355 421,1328 432,1297 443,1252 454,1198 465,1145 476,1098 487,1040 498,995 509,925 520,892 531,872 542,865 553,862 564,865 575,867 586,865 597,862 608,858 619,857 630,852 641,840 652,832 663,810 674,790 685,770 696,740 707,715 718,675 729,640 740,603 751,598 762,598 773,603 784,610 795,618 806,618 817,603 828,585 839,568 850,560 861,557 872,563 883,575 894,587 905,583 916,573 927,573 938,570 949,570 958,573 969,603 980,636 991,653 1002,678 1013,703 1024,727 1035,753 1046,773 1057,783 1068,813 1079,840 1090,852 1101,872 1112,880 1123,888 1134,913 1145,925 1156,933 1167,935 1178,927 1189,925 1200,912 1211,907 1222,880 1233,862 1244,843 1255,810 1266,783 1277,718 1288,668 1299,638 1310,614 1321,597 1332,590 1343,587 1354,587 1365,590 1376,600 1387,600 1398,600 1409,605 1420,630 1431,670 1442,708 1453,702 1464,695 1475,690 1486,685 1497,690 1505,690"/>
<polyline transform="translate(1250,2860) scale(0.7866,0.5102)" vector-effect="non-scaling-stroke" stroke="#fdd835" points="0,690 10,687 20,685 31,687 42,690 54,700 65,712 76,716 88,710 99,725 110,755 121,800 133,840 144,875 155,915 167,960 179,1005 190,1045 202,1085 213,1130 225,1150 236,1180 248,1230 260,1245 271,1260 282,1267 294,1257 305,1235 317,1195 328,1150 340,1095 351,1045 363,1000 374,955 386,932 398,900 409,875 420,853 432,800 443,765 455,737 466,705 478,690 490,665 501,645 513,625 524,600 536,578 547,563 559,540 570,512 582,485 593,470 605,457 616,430 628,415 640,405 651,413 663,427 675,455 686,497 697,535 709,580 720,616 732,650 743,703 755,745 766,790 778,845 789,878 801,920 812,952 824,988 835,1020 847,1025 858,1020 870,1015 881,1025 893,1022"/>
<polyline transform="translate(0,2860) scale(0.8307,0.5102)" vector-effect="non-scaling-stroke" stroke="#7e57c2" points="30,1430 38,1330 48,1150 59,1165 70,995 81,1075 92,1145 103,1172 114,1022 125,1120 136,1072 147,1130 158,1185 169,1195 180,1290 191,1395 202,1200 213,1255 224,1390 235,1445 246,1478 257,1418 268,1280 279,1370 290,1440 301,1428 312,1490 323,1555 330,1620 356,1620 360,1560 366,1195 377,1215 389,1040 400,898 410,885 421,940 432,905 443,830 454,765 465,790 476,742 487,808 498,855 509,960 520,892 531,918 542,963 553,860 564,908 575,962 586,898 597,742 608,760 619,677 630,757 641,650 652,720 663,660 674,588 685,640 696,530 707,528 718,430 729,330 740,425 751,670 762,758 773,757 784,883 795,758 806,735 817,465 828,312 839,437 850,352 861,480 872,518 883,480 892,610 903,655 914,595 925,745 936,843 947,740 958,745 969,905 980,765 991,686 1002,810 1013,695 1024,840 1035,835 1046,925 1057,818 1068,985 1079,1130 1090,990 1101,1050 1112,892 1123,1005 1134,1040 1145,890 1156,975 1167,800 1178,690 1189,830 1200,693 1211,770 1222,665 1233,800 1244,735 1255,600 1266,465 1277,222 1288,265 1299,460 1310,635 1321,540 1332,620 1343,752 1354,685 1365,798 1376,850 1387,805 1398,688 1409,640 1420,790 1431,697 1442,803 1453,645 1464,510 1475,433 1486,580 1497,720 1505,810"/>
<polyline transform="translate(1250,2860) scale(0.7866,0.5102)" vector-effect="non-scaling-stroke" stroke="#7e57c2" points="0,810 7,712 20,805 31,838 42,705 54,840 65,895 76,765 88,695 99,820 110,935 121,1080 134,1188 146,1248 157,1325 168,1365 182,1455 192,1310 203,1345 214,1380 226,1175 237,1240 249,1305 262,1113 274,1193 285,1025 296,970 306,830 318,752 331,685 342,830 354,672 366,790 377,753 389,878 399,825 411,925 422,790 433,585 446,410 457,497 468,483 481,565 492,413 504,483 516,372 527,440 539,418 551,578 562,477 573,517 585,457 597,310 608,255 619,215 631,285 643,395 654,593 666,665 678,795 689,955 700,1080 711,1215 723,1055 736,1095 746,1173 759,957 770,1058 781,842 794,777 805,862 816,992 829,1103 839,1120 851,980 863,1025 874,1137 886,1227 896,1058"/>
</g>

<!-- ===== OI ===== -->
<g clip-path="url(#cO)">
<g transform="translate(0,3640) scale(1.5853,0.6454)" fill="none" stroke-width="8" stroke-linecap="square">
<path vector-effect="non-scaling-stroke" stroke="#f23645" d="M16,533H45M108,395V463H212V628H281V741H320M457,721V830H492M589,603V731H600M623,607V640H640V685H687M721,568V713H735V768H750V790H760M771,748V803H790V815H812M866,636V655H875V702H910M921,446V470H955M985,344V397H1008V493H1060V585H1095"/>
<path vector-effect="non-scaling-stroke" stroke="#089981" d="M45,533V395H108M320,741V725H383V721H457M492,830V786H550V603H589M600,731V607H623M687,685V568H721M760,790V748H771M812,815V757H843V733H860V636H866M910,702V446H921M955,470V344H985"/>
</g>
<g fill="#f23645"><rect x="1742" y="4011" width="4" height="3"/><rect x="1781" y="4094" width="4" height="3"/><rect x="1802" y="4090" width="4" height="3"/><rect x="1819" y="4064" width="4" height="3"/><rect x="1846" y="4100" width="4" height="3"/><rect x="1865" y="4127" width="4" height="3"/><rect x="1883" y="4197" width="4" height="3"/><rect x="1892" y="4183" width="4" height="3"/><rect x="1918" y="4166" width="4" height="3"/></g>
<g fill="#089981"><rect x="1747" y="4016" width="4" height="3"/><rect x="1754" y="4027" width="4" height="3"/><rect x="1764" y="4039" width="4" height="3"/><rect x="1773" y="4051" width="4" height="3"/><rect x="1792" y="4077" width="4" height="3"/><rect x="1810" y="4049" width="4" height="3"/><rect x="1829" y="4075" width="4" height="3"/><rect x="1837" y="4098" width="4" height="3"/><rect x="1856" y="4111" width="4" height="3"/><rect x="1875" y="4124" width="4" height="3"/><rect x="1900" y="4196" width="4" height="3"/><rect x="1910" y="4194" width="4" height="3"/><rect x="1927" y="4155" width="4" height="3"/><rect x="1937" y="4106" width="4" height="3"/><rect x="1946" y="4052" width="4" height="3"/><rect x="1954" y="4051" width="4" height="3"/></g>
</g>

<!-- separators & borders -->
<g stroke="#e0e3eb" stroke-width="2.5">
<path d="M25,1325H2457M25,2103H2457M25,2879H2457M25,3657H2457M25,4502H2457M2457,0V4502"/>
</g>
<path d="M25,0V4502" stroke="#eef0f4" stroke-width="2"/>

<!-- legends -->
<text x="46" y="1376.5" fill="#131722" textLength="178" lengthAdjust="spacingAndGlyphs">VRoC (26, 10)</text><text x="241" y="1376.5" fill="#22ab94" textLength="141" lengthAdjust="spacingAndGlyphs">222.36308</text>
<text x="46" y="2154" fill="#131722" textLength="276" lengthAdjust="spacingAndGlyphs">MACD (12, 26, close)</text><text x="339" y="2154" fill="#ffcdd2" textLength="122" lengthAdjust="spacingAndGlyphs">−0.00192</text><text x="476" y="2154" fill="#2962ff" textLength="124" lengthAdjust="spacingAndGlyphs">−0.01228</text><text x="615" y="2154" fill="#ff6d00" textLength="124" lengthAdjust="spacingAndGlyphs">−0.01036</text>
<text x="46" y="2931.5" fill="#131722" textLength="191" lengthAdjust="spacingAndGlyphs">RSI (14, close)</text><text x="252" y="2931.5" fill="#7e57c2" textLength="75" lengthAdjust="spacingAndGlyphs">35.37</text><text x="341" y="2931.5" fill="#fdd835" textLength="73" lengthAdjust="spacingAndGlyphs">36.59</text>
<text x="47" y="3709.5" fill="#131722">OI</text><text x="92" y="3709.5" fill="#131722">∅</text><text x="133" y="3709.5" fill="#089981" textLength="102" lengthAdjust="spacingAndGlyphs">34.47M</text><text x="250" y="3709.5" fill="#089981" textLength="86" lengthAdjust="spacingAndGlyphs">34.5M</text><text x="349" y="3709.5" fill="#089981" textLength="103" lengthAdjust="spacingAndGlyphs">34.47M</text><text x="464" y="3709.5" fill="#089981" textLength="88" lengthAdjust="spacingAndGlyphs">34.5M</text>

<!-- price axis -->
<g fill="#131722">
<text x="2277" y="31">0.50000</text><text x="2277" y="142">0.45000</text><text x="2277" y="253">0.40000</text><text x="2277" y="364">0.35000</text><text x="2277" y="475">0.30000</text><text x="2277" y="586">0.25000</text><text x="2277" y="697">0.20000</text><text x="2277" y="808">0.15000</text><text x="2277" y="919">0.10000</text><text x="2277" y="1030">0.05000</text><text x="2277" y="1141">0.00000</text>
</g>
<rect x="2255" y="816" width="143" height="43" rx="4" fill="#089981"/><text x="2277" y="848" fill="#fff">0.13182</text>
<rect x="2255" y="859" width="143" height="43" rx="4" fill="#f7a9b1"/><text x="2277" y="891" fill="#131722">0.13099</text>

<g fill="#131722" clip-path="url(#aV)">
<text x="2277" y="1344">300.00000</text><text x="2277" y="1483">200.00000</text><text x="2277" y="1621">100.00000</text><text x="2277" y="1759">0.00000</text><text x="2277" y="1898.5">−100.00000</text><text x="2277" y="2036.5">−200.00000</text>
</g>
<rect x="2255" y="1420" width="175" height="44" rx="4" fill="#22ab94"/><text x="2277" y="1452.5" fill="#fff">222.36308</text>

<g fill="#131722" clip-path="url(#aM)">
<text x="2277" y="2165">0.01000</text><text x="2277" y="2284">0.00000</text><text x="2277" y="2403">−0.01000</text><text x="2277" y="2522">−0.02000</text><text x="2277" y="2640.5">−0.03000</text><text x="2277" y="2760">−0.04000</text><text x="2277" y="2879">−0.05000</text>
</g>
<rect x="2255" y="2275.7" width="158" height="43" rx="4" fill="#ffcdd2"/><text x="2277" y="2307.5" fill="#131722">−0.00192</text>
<rect x="2255" y="2375.7" width="158" height="43" rx="4" fill="#ff6d00"/><text x="2277" y="2407.5" fill="#fff">−0.01036</text>
<rect x="2255" y="2418.6" width="158" height="43" rx="4" fill="#2962ff"/><text x="2277" y="2450.5" fill="#fff">−0.01228</text>

<g fill="#131722" clip-path="url(#aR)">
<text x="2277" y="2943.5">65.00</text><text x="2277" y="3022.5">60.00</text><text x="2277" y="3101.5">55.00</text><text x="2277" y="3181">50.00</text><text x="2277" y="3260">45.00</text><text x="2277" y="3339.5">40.00</text><text x="2277" y="3497">30.00</text><text x="2277" y="3576.5">25.00</text><text x="2277" y="3655">20.00</text>
</g>
<rect x="2255" y="3337" width="108" height="43" rx="4" fill="#fdd835"/><text x="2277" y="3369" fill="#131722">36.59</text>
<rect x="2255" y="3380" width="108" height="44" rx="4" fill="#7e57c2"/><text x="2277" y="3412.5" fill="#fff">35.37</text>

<g fill="#131722">
<text x="2277" y="3759">48M</text><text x="2277" y="3849">44M</text><text x="2277" y="3939.5">40M</text><text x="2277" y="4120.5">32M</text><text x="2277" y="4210.5">28M</text><text x="2277" y="4301">24M</text><text x="2277" y="4391.5">20M</text>
</g>
<rect x="2255" y="3997" width="139" height="42" rx="4" fill="#f23645"/><text x="2277" y="4028.5" fill="#fff">36.06M</text>
<rect x="2255" y="4039" width="123" height="43" rx="4" fill="#089981"/><text x="2277" y="4071" fill="#fff">34.5M</text>

<!-- time axis -->
<g fill="#131722" text-anchor="middle">
<text x="176" y="4481">10</text><text x="340" y="4481">11</text><text x="512" y="4481">13</text><text x="731" y="4481">15</text><text x="885" y="4481">17</text><text x="1021" y="4481">21</text><text x="1157" y="4481">23</text>
<text x="1384" y="4481" font-weight="bold" font-family="'Liberation Sans','Noto Sans CJK SC',sans-serif">11月</text>
<text x="1529" y="4481">6</text><text x="1693" y="4481">9</text><text x="1857" y="4481">15</text>
</g>

<!-- logo -->
<g fill="#131722">
<path d="M32,4560H63V4601H47V4575H32Z"/>
<circle cx="75" cy="4568" r="7.5"/>
<path d="M89,4560H106L90,4601H72Z"/>
<text x="124" y="4597" font-size="54" font-weight="bold" textLength="301" lengthAdjust="spacingAndGlyphs">TradingView</text>
</g>

<!-- red annotation frame -->
<rect x="2063" y="1236" width="398" height="379" fill="none" stroke="#f4361a" stroke-width="40"/>
</svg>
</body></html>
